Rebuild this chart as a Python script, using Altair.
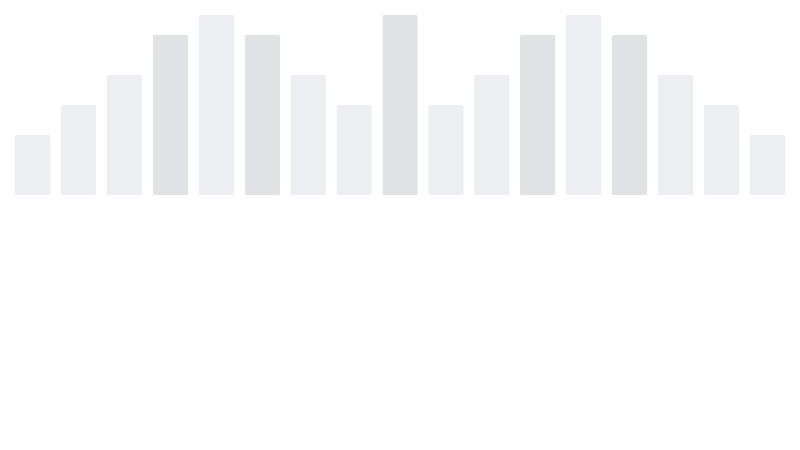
import altair as alt
import pandas as pd

slots = [f"s{i:02d}" for i in range(1, 18)]
heights = [60, 90, 120, 160, 180, 160, 120, 90, 180, 90, 120, 160, 180, 160, 120, 90, 60]
tones = ["light", "light", "light", "dark", "light", "dark", "light", "light", "dark",
         "light", "light", "dark", "light", "dark", "light", "light", "light"]

df = pd.DataFrame({"slot": slots, "h": heights, "tone": tones})

chart = alt.Chart(df).mark_bar(cornerRadius=2).encode(
    x=alt.X("slot:N", sort=slots, axis=None,
            scale=alt.Scale(paddingInner=0.227, paddingOuter=0.152)),
    y=alt.Y("h:Q", axis=None, scale=alt.Scale(domain=[0, 180], nice=False, zero=True)),
    color=alt.Color("tone:N", legend=None,
                    scale=alt.Scale(domain=["light", "dark"], range=["#edeef1", "#e0e2e6"])),
).properties(
    width=784, height=180,
    autosize=alt.AutoSizeParams(type="none"),
    padding={"left": 0, "right": 0, "top": 7, "bottom": 0},
).configure_view(stroke=None)

chart.save("out.html", embed_options={"renderer": "svg", "actions": False})
